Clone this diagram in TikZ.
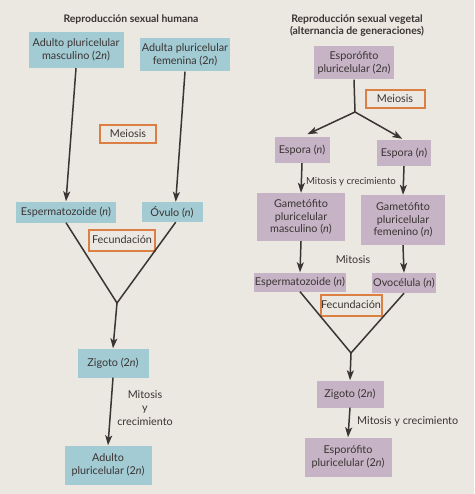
\documentclass[tikz,border=0pt]{standalone}
\usepackage{fontspec}
\setmainfont{Lato}
\usetikzlibrary{arrows.meta,positioning}
\definecolor{paper}{HTML}{EBE7E1}
\definecolor{bluebox}{HTML}{A3CBD3}
\definecolor{mauve}{HTML}{C6B3C5}
\definecolor{orangeline}{HTML}{DB7F45}
\definecolor{ink}{HTML}{3A3433}

\begin{document}
\begin{tikzpicture}[
  x=1pt, y=-1pt,
  every node/.style={
    text=ink, align=center, inner sep=0pt,
    font=\fontsize{10.8}{12.5}\selectfont
  },
  title/.style={font=\bfseries\fontsize{10.4}{12}\selectfont},
  human/.style={fill=bluebox},
  plant/.style={fill=mauve},
  stage/.style={draw=orangeline, line width=2pt},
  arrow/.style={-{Stealth[length=10pt,width=7pt,inset=2.5pt]}, line width=1.5pt, draw=ink},
  line/.style={line width=1.5pt, draw=ink}
]

\fill[paper] (0,0) rectangle (474,494);

\node[title] (titleh) at (131,20) {Reproducción sexual humana};
\node[human, minimum width=95pt, minimum height=36pt] (adultm) at (76,50) {Adulto pluricelular\\masculino (2\textit{n})};
\node[human, minimum width=90pt, minimum height=33pt] (adultf) at (185,55) {Adulta pluricelular\\femenina (2\textit{n})};
\node[stage, minimum width=56pt, minimum height=18pt] (meiosish) at (128,134) {Meiosis};
\node[human, minimum width=100pt, minimum height=21pt] (spermh) at (66,212) {Espermatozoide (\textit{n})};
\node[human, minimum width=61pt, minimum height=20pt] (ovum) at (172,212) {Óvulo (\textit{n})};
\node[stage, minimum width=66pt, minimum height=21pt] (fecundh) at (122,240) {Fecundación};
\coordinate (meeth) at (117,303);
\node[human, minimum width=71pt, minimum height=29pt] (zygoteh) at (113,363) {Zigoto (2\textit{n})};
\node[font=\fontsize{10.8}{13.5}\selectfont] (growh) at (145,408) {Mitosis\\y\\crecimiento};
\node[human, minimum width=87pt, minimum height=39pt] (adult) at (108,465) {Adulto\\pluricelular (2\textit{n})};

\draw[arrow] (adultm.south) -- (spermh.north);
\draw[arrow] (adultf.south) -- (ovum.70);
\draw[line] (spermh.south) -- (meeth) -- (ovum.-70);
\draw[arrow] (meeth) -- (zygoteh.north);
\draw[arrow] (zygoteh.south) -- (adult.north);

\node[title] (titlep) at (357,26) {Reproducción sexual vegetal\\(alternancia de generaciones)};
\node[plant, minimum width=80pt, minimum height=33pt] (sporo) at (354,63) {Esporófito\\pluricelular (2\textit{n})};
\coordinate (splitp) at (355,112);
\node[stage, minimum width=59pt, minimum height=18pt] (meiosisp) at (395,99) {Meiosis};
\node[plant, minimum width=55pt, minimum height=26pt] (sporel) at (302,150) {Espora (\textit{n})};
\node[plant, minimum width=54pt, minimum height=26pt] (sporer) at (404,153) {Espora (\textit{n})};
\node[font=\fontsize{9.6}{12}\selectfont] (growp) at (351,182) {Mitosis y crecimiento};
\node[plant, minimum width=88pt, minimum height=48pt] (gamm) at (301,217) {Gametófito\\pluricelular\\masculino (\textit{n})};
\node[plant, minimum width=84pt, minimum height=50pt] (gamf) at (403,220) {Gametófito\\pluricelular\\femenino (\textit{n})};
\node (mitp) at (353,260) {Mitosis};
\node[plant, minimum width=92pt, minimum height=19pt] (spermp) at (300,282) {Espermatozoide (\textit{n})};
\node[plant, minimum width=64pt, minimum height=20pt] (oocyte) at (404,283) {Ovocélula (\textit{n})};
\node[stage, minimum width=61pt, minimum height=21pt] (fecundp) at (351,305) {Fecundación};
\coordinate (meetp) at (351,353);
\node[plant, minimum width=67pt, minimum height=27pt] (zygotep) at (350,394) {Zigoto (2\textit{n})};
\node[anchor=west] (growp2) at (357,421) {Mitosis y crecimiento};
\node[plant, minimum width=87pt, minimum height=39pt] (sporo2) at (348,457) {Esporófito\\pluricelular (2\textit{n})};

\draw[line] (sporo.south) -- (splitp);
\draw[arrow, shorten >=6pt] (splitp) -- (sporel.north);
\draw[arrow, shorten >=2pt] (splitp) -- (sporer.north);
\draw[arrow] (sporel.south) -- (gamm.north);
\draw[arrow] (sporer.south) -- (gamf.north);
\draw[arrow] (gamm.south) -- (spermp.north);
\draw[arrow] (gamf.south) -- (oocyte.north);
\draw[line] (spermp.south) -- (meetp) -- (oocyte.south);
\draw[arrow] (meetp) -- (zygotep.north);
\draw[arrow] (zygotep.south) -- (sporo2.north);

\end{tikzpicture}
\end{document}
